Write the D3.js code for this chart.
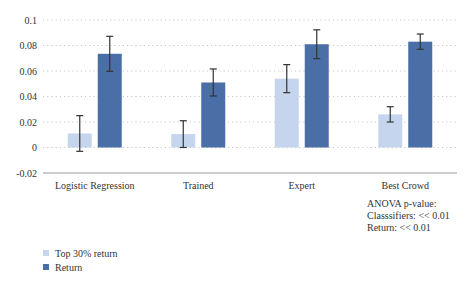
<!DOCTYPE html>
<html>
<head>
<meta charset="utf-8">
<script src="https://cdn.jsdelivr.net/npm/d3@7"></script>
<style>
  body { margin: 0; background: #fff; }
  text { font-family: "Liberation Serif", serif; fill: #333; }
</style>
</head>
<body>
<div id="wrapper"></div>
<script>
// data
const categories = ["Logistic Regression", "Trained", "Expert", "Best Crowd"]
const seriesNames = ["Top 30% return", "Return"]
const topReturn = [0.011, 0.0105, 0.054, 0.026]
const topReturnErr = [0.014, 0.0105, 0.011, 0.006]
const returnVals = [0.0735, 0.051, 0.081, 0.083]
const returnErr = [0.0137, 0.0106, 0.0113, 0.006]
const yTicks = [-0.02, 0, 0.02, 0.04, 0.06, 0.08, 0.1]
const yTickLabels = ["-0.02", "0", "0.02", "0.04", "0.06", "0.08", "0.1"]
const noteLines = ["ANOVA p-value:", "Classsifiers: << 0.01", "Return: << 0.01"]
const colors = ["#c6d5ee", "#4a6ea6"]

const width = 474
const height = 287
const margin = { top: 20, right: 17, bottom: 114, left: 43 }
const boundedWidth = width - margin.left - margin.right
const boundedHeight = height - margin.top - margin.bottom

const svg = d3.select("#wrapper").append("svg")
  .attr("width", width)
  .attr("height", height)

const bounds = svg.append("g")
  .attr("transform", `translate(${margin.left},${margin.top})`)

const xScale = d3.scaleBand()
  .domain(categories)
  .range([0, boundedWidth])

const subScale = d3.scaleBand()
  .domain(seriesNames)
  .range([xScale.bandwidth() / 2 - 27, xScale.bandwidth() / 2 + 27])
  .paddingInner(0.2)

const yScale = d3.scaleLinear()
  .domain([-0.02, 0.1])
  .range([boundedHeight, 0])

// gridlines (dotted)
bounds.selectAll(".grid")
  .data(yTicks.filter(d => d > -0.02))
  .enter().append("line")
    .attr("x1", 0)
    .attr("x2", boundedWidth)
    .attr("y1", d => yScale(d))
    .attr("y2", d => yScale(d))
    .attr("stroke", "#c8c8c8")
    .attr("stroke-width", 1)
    .attr("stroke-dasharray", "1.2,3")

// y tick labels
const yAxis = bounds.append("g")
  .call(d3.axisLeft(yScale).tickValues(yTicks).tickSize(0).tickPadding(6)
    .tickFormat((d, i) => yTickLabels[i]))
yAxis.select(".domain").remove()
yAxis.selectAll("text")
  .style("font-family", "Liberation Serif, serif")
  .style("font-size", "10px")
  .attr("fill", "#333")

// baseline axis at -0.02
bounds.append("line")
  .attr("x1", 0)
  .attr("x2", boundedWidth)
  .attr("y1", yScale(-0.02))
  .attr("y2", yScale(-0.02))
  .attr("stroke", "#999")
  .attr("stroke-width", 1.2)

// bars
const rows = categories.map((c, i) => ({
  cat: c,
  values: [
    { s: seriesNames[0], v: topReturn[i], e: topReturnErr[i] },
    { s: seriesNames[1], v: returnVals[i], e: returnErr[i] },
  ]
}))

const groups = bounds.selectAll(".group")
  .data(rows)
  .enter().append("g")
    .attr("transform", d => `translate(${xScale(d.cat)},0)`)

groups.selectAll("rect")
  .data(d => d.values)
  .enter().append("rect")
    .attr("x", d => subScale(d.s))
    .attr("width", subScale.bandwidth())
    .attr("y", d => yScale(d.v))
    .attr("height", d => yScale(0) - yScale(d.v))
    .attr("fill", (d, i) => colors[i])

// error bars
const errs = groups.selectAll(".err")
  .data(d => d.values)
  .enter().append("g")
    .attr("transform", d => `translate(${subScale(d.s) + subScale.bandwidth() / 2},0)`)

errs.append("line")
  .attr("y1", d => yScale(d.v + d.e))
  .attr("y2", d => yScale(d.v - d.e))
  .attr("stroke", "#333")
  .attr("stroke-width", 1.2)
errs.append("line")
  .attr("x1", -3.5).attr("x2", 3.5)
  .attr("y1", d => yScale(d.v + d.e))
  .attr("y2", d => yScale(d.v + d.e))
  .attr("stroke", "#333")
  .attr("stroke-width", 1.2)
errs.append("line")
  .attr("x1", -3.5).attr("x2", 3.5)
  .attr("y1", d => yScale(d.v - d.e))
  .attr("y2", d => yScale(d.v - d.e))
  .attr("stroke", "#333")
  .attr("stroke-width", 1.2)

// category labels
bounds.selectAll(".cat")
  .data(categories)
  .enter().append("text")
    .attr("x", d => xScale(d) + xScale.bandwidth() / 2)
    .attr("y", yScale(-0.02) + 16)
    .attr("text-anchor", "middle")
    .style("font-size", "10px")
    .text(d => d)

// ANOVA note
svg.append("g")
  .selectAll("text")
  .data(noteLines)
  .enter().append("text")
    .attr("x", 367)
    .attr("y", (d, i) => 207 + i * 12)
    .style("font-size", "10px")
    .text(d => d)

// legend
const legend = svg.append("g")
  .attr("transform", "translate(43,253)")
const legendItems = legend.selectAll("g")
  .data(seriesNames)
  .enter().append("g")
    .attr("transform", (d, i) => `translate(0,${i * 14})`)
legendItems.append("rect")
  .attr("x", 0).attr("y", -3)
  .attr("width", 6).attr("height", 6)
  .attr("fill", (d, i) => colors[i])
legendItems.append("text")
  .attr("x", 12)
  .attr("y", 3.5)
  .style("font-size", "10px")
  .text(d => d)
</script>
</body>
</html>
